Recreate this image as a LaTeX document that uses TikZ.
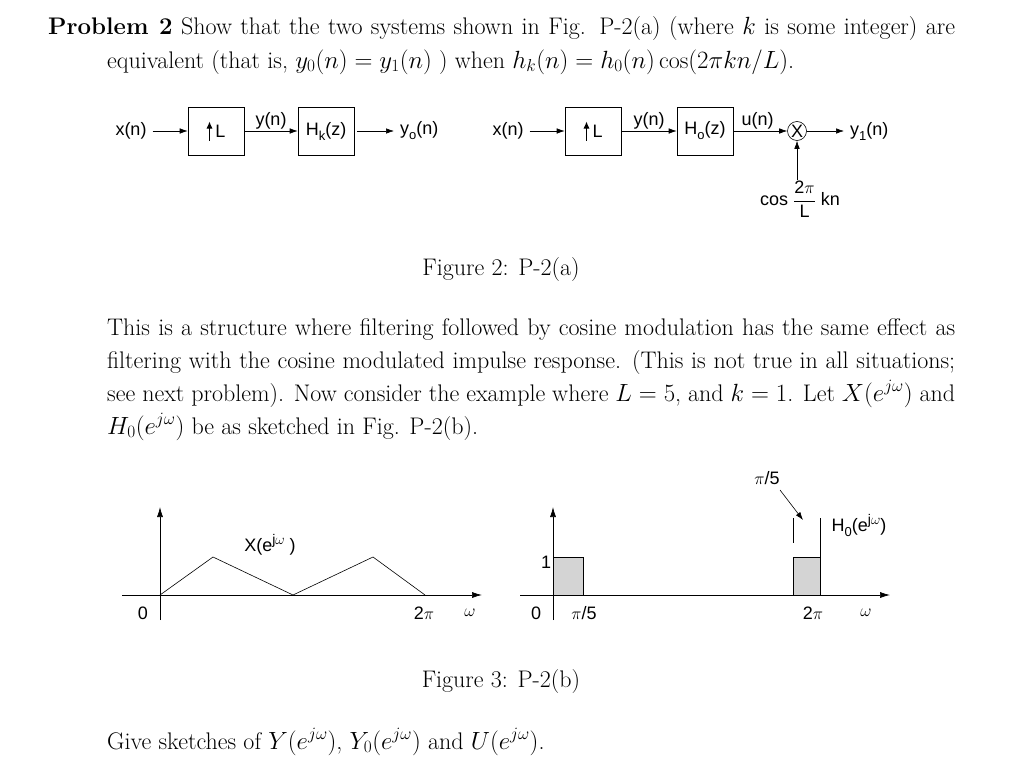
\documentclass[tikz,border=0pt]{standalone}
\usepackage{fontspec}
\newfontfamily\hv{Liberation Sans}
\usetikzlibrary{arrows.meta}
\newcommand{\lsub}[1]{\raisebox{-5pt}{\fontsize{13}{14}\selectfont #1}}
\newcommand{\lsup}[1]{\raisebox{7pt}{\fontsize{14}{15}\selectfont #1}}
\newcommand{\upa}{\tikz[baseline=1pt,x=1pt,y=1pt]\draw[line width=0.9pt,-{Latex[length=7pt,width=6pt]}] (0,-2) -- (0,17);\,}
\begin{document}
\begin{tikzpicture}[x=1pt,y=-1pt,
  txt/.style={anchor=base west,inner sep=0pt,font=\fontsize{24}{28}\selectfont},
  lbl/.style={inner sep=0pt,font=\hv\fontsize{18}{20}\selectfont},
  blk/.style={draw,line width=0.6pt,minimum width=56pt,minimum height=48pt,inner sep=0pt,font=\hv\fontsize{18}{20}\selectfont},
  sig/.style={line width=0.6pt,-{Latex[length=8pt,width=5.5pt]}},
  ax/.style={line width=0.7pt,-{Latex[length=10pt,width=6pt]}},
  thin/.style={line width=0.6pt}]
\useasboundingbox (0,0) rectangle (1022,776);
% header text
\node[txt] (l1) at (48,35) {\makebox[907pt][s]{\textbf{Problem 2} Show that the two systems shown in Fig. P-2(a) (where $k$ is some integer) are}};
\node[txt] (l2) at (107,68) {equivalent (that is, $y_0(n)=y_1(n)$ ) when $h_k(n)=h_0(n)\cos(2\pi kn/L)$.};
% left chain
\node[lbl] (x1) at (131,131) {x(n)};
\node[blk] (u1) at (216,131) {\upa L};
\node[blk] (h1) at (326,131) {H\lsub{k}(z)};
\node[lbl,anchor=west] (y0) at (400,131) {y\lsub{o}(n)};
\draw[sig] (x1.east)++(6,0) -- (u1.west);
\draw[sig] (u1) -- (h1) node[lbl,midway,above=1pt] (ya) {y(n)};
\draw[sig] (h1.east)++(3,0) -- ([xshift=-6pt]y0.west);
% right chain
\node[lbl] (x2) at (508,131) {x(n)};
\node[blk] (u2) at (593,131) {\upa L};
\node[blk] (h2) at (705,131) {H\lsub{o}(z)};
\node[draw,circle,thin,minimum size=19pt,inner sep=0pt,lbl] (m) at (797,131) {X};
\node[lbl,anchor=west] (y1) at (850,131) {y\lsub{1}(n)};
\draw[sig] (x2.east)++(6,0) -- (u2.west);
\draw[sig] (u2) -- (h2) node[lbl,midway,above=1pt] {y(n)};
\draw[sig] (h2) -- (m) node[lbl,pos=0.45,above=1pt] {u(n)};
\draw[sig] (m) -- ([xshift=-6pt]y1.west);
\coordinate (cb) at (797,180);
\node[lbl,anchor=north] (cs) at (800,181) {cos $\displaystyle\frac{\mbox{\hv 2}\pi}{\mbox{\hv L}}$ kn};
\draw[sig] (cb) -- (m);
\node[txt,anchor=base] (f2) at (501,275) {Figure 2: P-2(a)};
% paragraph
\node[txt] (p1) at (107,335) {\makebox[848pt][s]{This is a structure where filtering followed by cosine modulation has the same effect as}};
\node[txt] (p2) at (107,368) {\makebox[848pt][s]{filtering with the cosine modulated impulse response. (This is not true in all situations;}};
\node[txt] (p3) at (107,401) {\makebox[848pt][s]{see next problem). Now consider the example where $L=5$, and $k=1$. Let $X(e^{j\omega})$ and}};
\node[txt] (p4) at (107,434) {$H_0(e^{j\omega})$ be as sketched in Fig. P-2(b).};
% left plot
\draw[ax] (122,595) -- (482,595);
\draw[ax] (160,620) -- (160,507);
\draw[thin] (160,595) -- (213,557) -- (293,595) -- (373,557) -- (425,595);
\node[lbl] (xl) at (270,545) {X(e\lsup{j$\omega$} )};
\node[lbl] at (143,613) {0};
\node[lbl] at (424,613) {2$\pi$};
\node[lbl] at (470,613) {$\omega$};
% right plot
\draw[ax] (520,595) -- (890,595);
\draw[ax] (553,620) -- (553,507);
\draw[thin,fill=black!17] (553,595) rectangle (583,557);
\draw[thin,fill=black!17] (793,595) rectangle (820,557);
\draw[thin] (793,518) -- (793,543);
\draw[thin] (820,518) -- (820,557);
\node[lbl] at (546,562) {1};
\node[lbl] (pt) at (767,478) {$\pi$/5};
\coordinate (pa) at (803,520);
\draw[sig] (780,490) -- (pa);
\node[lbl] at (859,525) {H\lsub{0}(e\lsup{j$\omega$})};
\node[lbl] at (536,613) {0};
\node[lbl] at (584,613) {$\pi$/5};
\node[lbl] at (813,613) {2$\pi$};
\node[lbl] at (866,613) {$\omega$};
\node[txt,anchor=base] (f3) at (501,687) {Figure 3: P-2(b)};
\node[txt] (l3) at (107,749) {Give sketches of $Y(e^{j\omega})$, $Y_0(e^{j\omega})$ and $U(e^{j\omega})$.};
\end{tikzpicture}
\end{document}
